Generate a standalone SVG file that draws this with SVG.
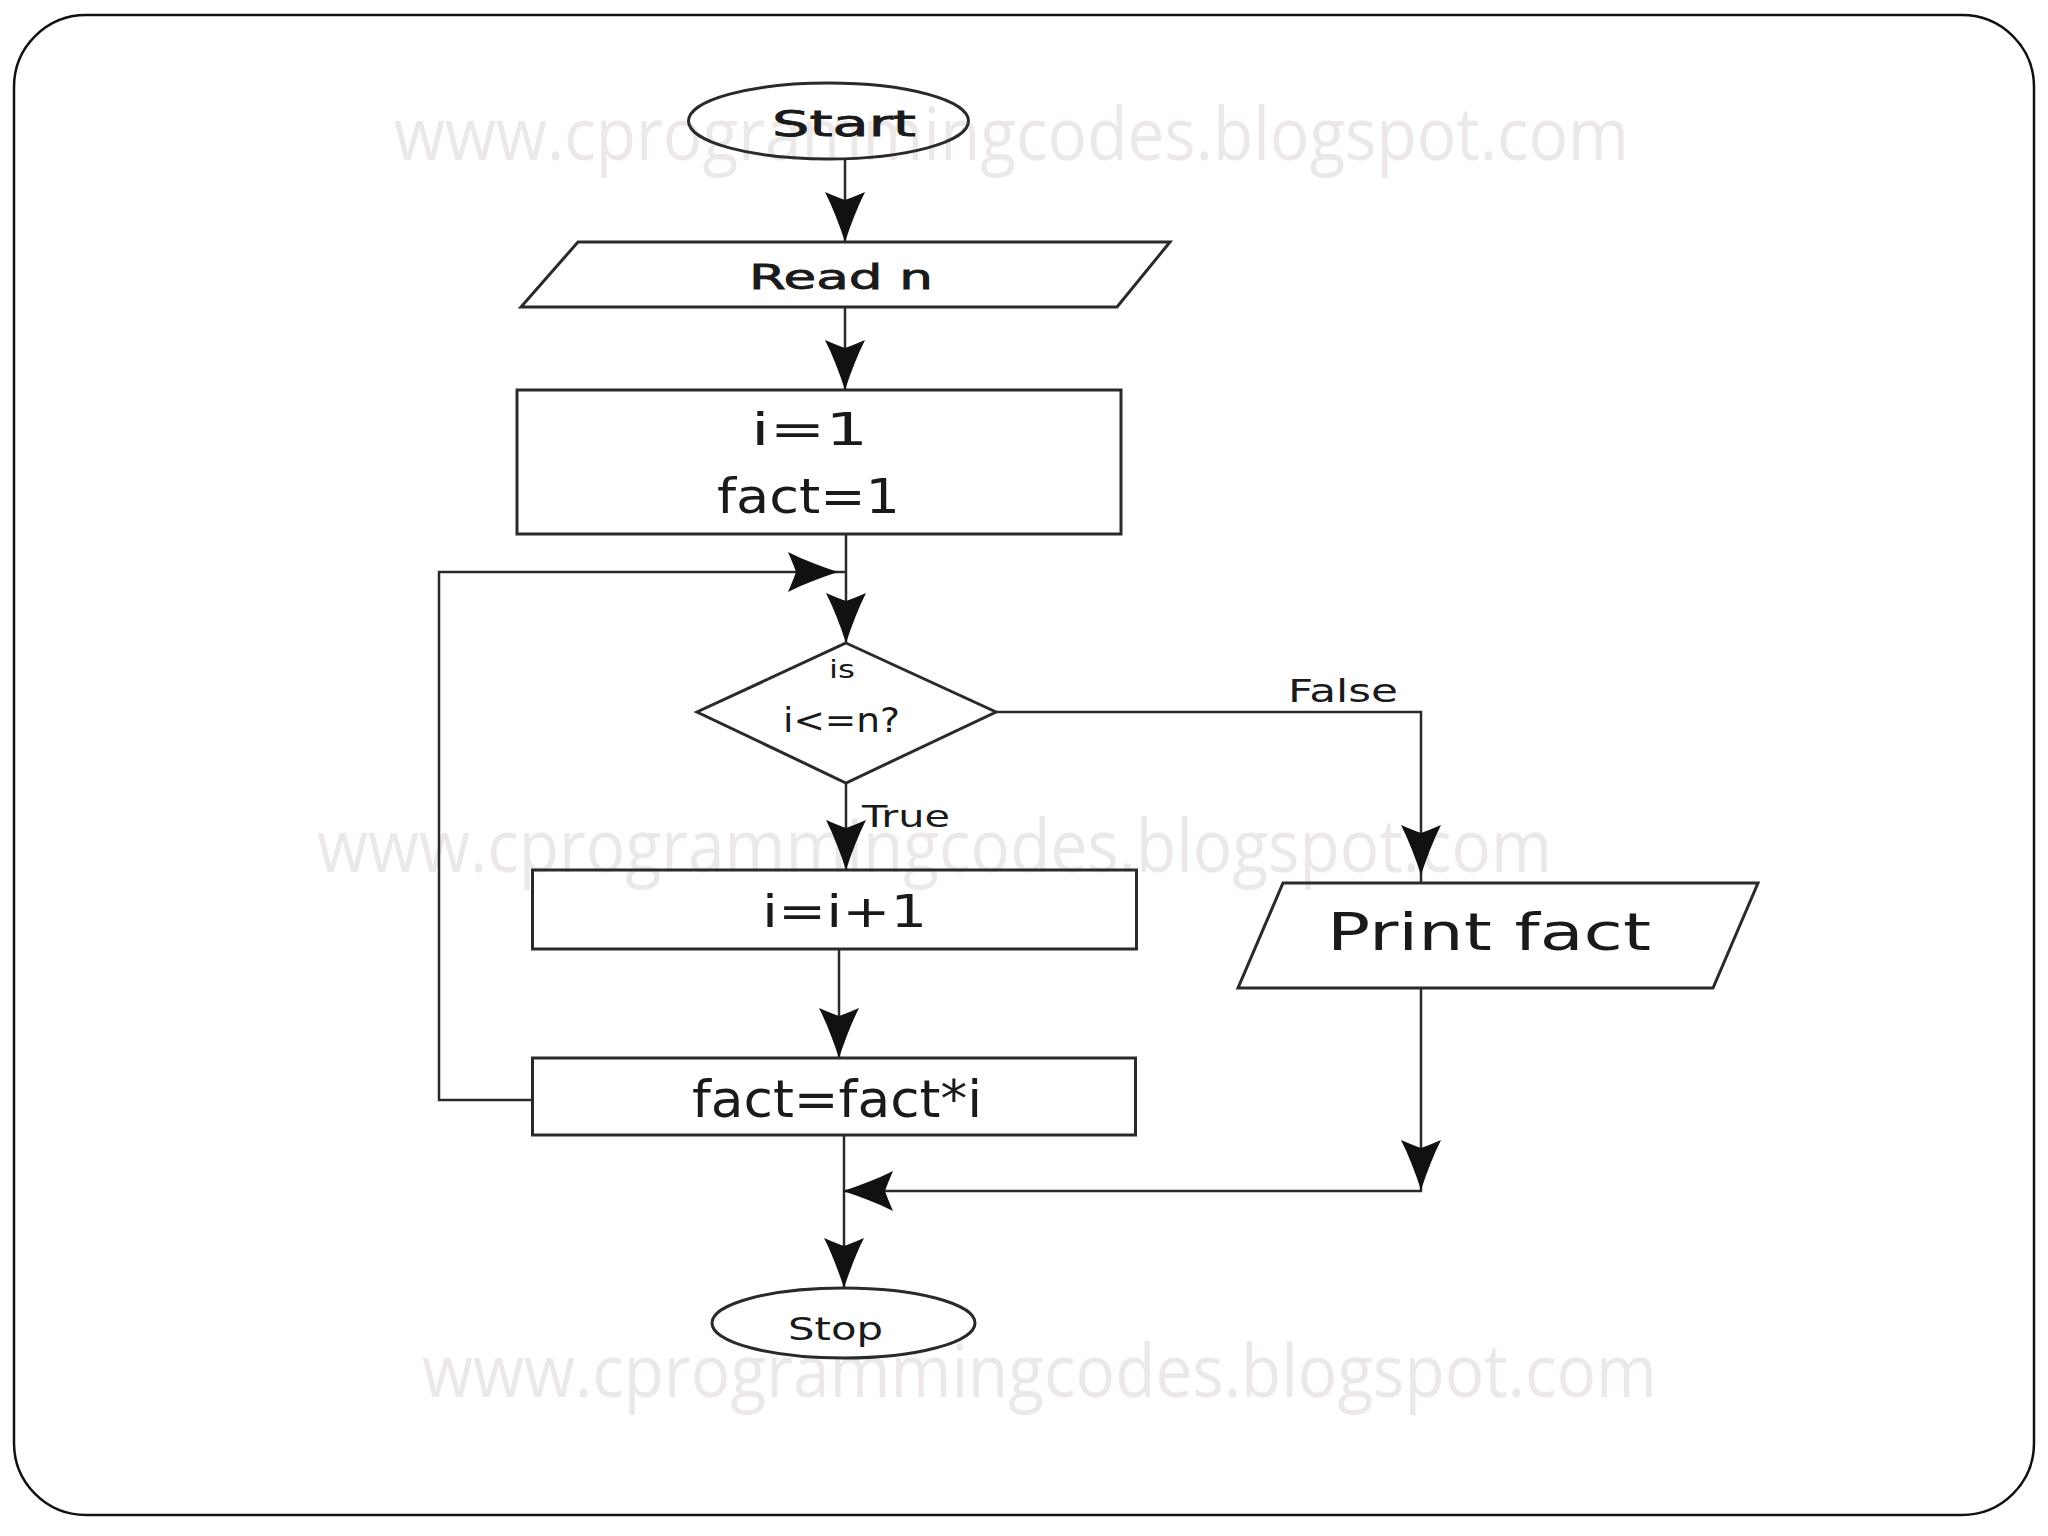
<svg xmlns="http://www.w3.org/2000/svg" width="2048" height="1536" viewBox="0 0 2048 1536">
<style>
.shape{fill:none;stroke:#2a2a2a;stroke-width:3}
.conn{fill:none;stroke:#2a2a2a;stroke-width:2.5}
.t{font-family:"DejaVu Sans","Liberation Sans",sans-serif;fill:#1a1a1a}
.b{stroke:#1a1a1a;stroke-width:0.8}
.wm{font-family:"Open Sans","Liberation Sans",sans-serif;font-size:74px;fill:#ece8e8}
</style>
<defs>
<path id="ah" d="M0,0 C-6,-18 -12,-34 -20,-50 Q-6,-44 0,-42 Q6,-44 20,-50 C12,-34 6,-18 0,0 Z" fill="#111"/>
</defs>
<rect x="0" y="0" width="2048" height="1536" fill="#fff"/>
<rect x="14" y="15" width="2020" height="1500" rx="72" ry="72" fill="#fff" stroke="#111" stroke-width="2.5"/>
<g id="watermark">
<text class="wm" x="394" y="160" textLength="1235" lengthAdjust="spacingAndGlyphs">www.cprogrammingcodes.blogspot.com</text>
<text class="wm" x="317" y="872" textLength="1235" lengthAdjust="spacingAndGlyphs">www.cprogrammingcodes.blogspot.com</text>
<text class="wm" x="422" y="1397" textLength="1235" lengthAdjust="spacingAndGlyphs">www.cprogrammingcodes.blogspot.com</text>
</g>
<g id="connectors">
<path class="conn" d="M845,159 V242"/>
<path class="conn" d="M845,307 V390"/>
<path class="conn" d="M846,534 V643"/>
<path class="conn" d="M532,1100 H439 V572 H846"/>
<path class="conn" d="M846,783 V870"/>
<path class="conn" d="M996,712 H1421 V883"/>
<path class="conn" d="M1421,988 V1191 H843"/>
<path class="conn" d="M839,949 V1058"/>
<path class="conn" d="M844,1135 V1288"/>
<use href="#ah" transform="translate(845,242)"/>
<use href="#ah" transform="translate(845,390)"/>
<use href="#ah" transform="translate(838,572) rotate(-90)"/>
<use href="#ah" transform="translate(846,643)"/>
<use href="#ah" transform="translate(846,870)"/>
<use href="#ah" transform="translate(1421,875)"/>
<use href="#ah" transform="translate(839,1058)"/>
<use href="#ah" transform="translate(1421,1190)"/>
<use href="#ah" transform="translate(843,1191) rotate(90)"/>
<use href="#ah" transform="translate(844,1288)"/>
<text class="t" x="862" y="827" font-size="30" textLength="88" lengthAdjust="spacingAndGlyphs">True</text>
<text class="t" x="1288" y="702" font-size="32" textLength="110" lengthAdjust="spacingAndGlyphs">False</text>
</g>
<g id="start">
<ellipse class="shape" cx="828.5" cy="121" rx="140" ry="38"/>
<text class="t b" x="772" y="136" font-size="36" textLength="144" lengthAdjust="spacingAndGlyphs">Start</text>
</g>
<g id="read">
<polygon class="shape" points="578,242 1170,242 1117,307 521,307"/>
<text class="t b" x="749" y="289" font-size="33" textLength="184" lengthAdjust="spacingAndGlyphs">Read n</text>
</g>
<g id="init">
<rect class="shape" x="517" y="390" width="604" height="144"/>
<text class="t" x="751" y="445" font-size="44" textLength="117" lengthAdjust="spacingAndGlyphs">i=1</text>
<text class="t" x="717" y="513" font-size="48" textLength="183" lengthAdjust="spacingAndGlyphs">fact=1</text>
</g>
<g id="decision">
<polygon class="shape" points="846,643 996,712 846,783 697,712"/>
<text class="t" x="829" y="678" font-size="24" textLength="26" lengthAdjust="spacingAndGlyphs">is</text>
<text class="t" x="783" y="732" font-size="33" textLength="117" lengthAdjust="spacingAndGlyphs">i&lt;=n?</text>
</g>
<g id="incr">
<rect class="shape" x="532.5" y="870" width="604" height="79"/>
<text class="t" x="762" y="927" font-size="44" textLength="165" lengthAdjust="spacingAndGlyphs">i=i+1</text>
</g>
<g id="mult">
<rect class="shape" x="532.5" y="1058" width="603" height="77"/>
<text class="t" x="692" y="1117" font-size="52" textLength="290" lengthAdjust="spacingAndGlyphs">fact=fact*i</text>
</g>
<g id="print">
<polygon class="shape" points="1283,883 1758,883 1713,988 1238,988"/>
<text class="t" x="1327" y="950" font-size="52" textLength="324" lengthAdjust="spacingAndGlyphs">Print fact</text>
</g>
<g id="stop">
<ellipse class="shape" cx="843.5" cy="1323" rx="131.5" ry="35"/>
<text class="t" x="788" y="1340" font-size="32" textLength="95" lengthAdjust="spacingAndGlyphs">Stop</text>
</g>
</svg>
